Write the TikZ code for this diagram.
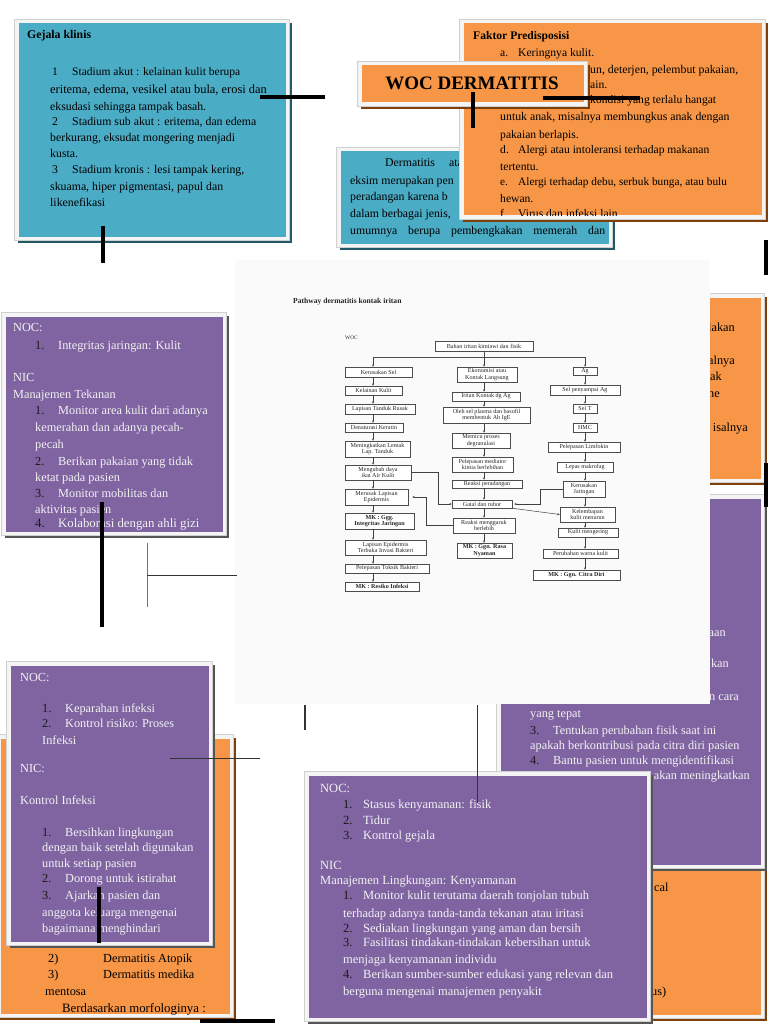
\documentclass[tikz,border=0pt]{standalone}
\usepackage{fontspec}
\setmainfont{Liberation Serif}
\usetikzlibrary{arrows.meta}
\definecolor{blueF}{HTML}{4BACC6}
\definecolor{blueS}{HTML}{215968}
\definecolor{orangeF}{HTML}{F79646}
\definecolor{orangeS}{HTML}{7F3F08}
\definecolor{purpleF}{HTML}{8064A2}
\definecolor{purpleS}{HTML}{555555}
\definecolor{edgeC}{HTML}{D0D0D0}
\definecolor{borderC}{HTML}{F4F4F4}
\definecolor{ptext}{HTML}{F2F2F2}
\definecolor{numc}{HTML}{1A1A1A}
\definecolor{imgbg}{HTML}{FAFAFA}
\newcounter{tlc}
\newcommand\tline[4][]{\stepcounter{tlc}\node[txt,#1] (t\arabic{tlc}) at (#2,#3) {#4};}
\newcommand\panel[6]{%
  \fill[#6] (#1+3,#2+3) rectangle (#3+3,#4+3);
  \fill[edgeC] (#1-0.6,#2-0.6) rectangle (#3+0.6,#4+0.6);
  \fill[borderC] (#1,#2) rectangle (#3,#4);
  \fill[#5] (#1+3.5,#2+3.5) rectangle (#3-3.5,#4-3.5);}
\newcommand\nm[1]{\makebox[23pt][l]{\textcolor{numc}{#1}}}
\newcommand\nmb[1]{\makebox[20pt][l]{\textcolor{numc}{#1}}}
\tikzset{
  txt/.style={anchor=base west, inner sep=0pt, font=\fontsize{12.3}{14}\selectfont, text=black},
  fs/.style={font=\fontsize{#1}{14}\selectfont},
  ptxt/.style={text=ptext},
  fbox/.style={draw=gray!60!black, line width=0.5pt, fill=white, inner sep=0.4pt, align=center,
    font=\fontsize{6.1}{6.5}\selectfont, text=black!85},
  fboxb/.style={fbox, font=\bfseries\fontsize{6.1}{6.5}\selectfont},
  farr/.style={-{Stealth[length=2.4pt,width=2.2pt]}, line width=0.5pt, draw=black!75},
  flink/.style={line width=0.5pt, draw=black!70},
  heavyline/.style={line width=3.2pt, black},
  thinline/.style={line width=0.9pt, black!80}
}
\begin{document}
\begin{tikzpicture}[x=1pt,y=-1pt]
\useasboundingbox (0,0) rectangle (768,1024);
\fill[white] (0,0) rectangle (768,1024);

% ---------- Dermatitis (blue, partly behind) ----------
\panel{337}{148}{612}{247}{blueF}{blueS}
\tline[fs=11.8]{385}{167}{Dermatitis\hspace{14pt}ata}
\tline[fs=11.8]{350}{185}{eksim merupakan pen}
\tline[fs=11.8]{350}{201}{peradangan karena b}
\tline[fs=11.8]{350}{218}{dalam berbagai jenis,}
\tline[fs=11.8]{350}{235}{\makebox[255pt][s]{umumnya berupa pembengkakan memerah dan}}

% ---------- Faktor Predisposisi (orange) ----------
\panel{460}{20}{765}{219}{orangeF}{orangeS}
\begin{scope}
\clip (463.5,23.5) rectangle (761.5,215.5);
\tline[fs=11.6]{473}{40}{\textbf{Faktor Predisposisi}}
\tline[fs=11.6]{500}{57}{\makebox[18pt][l]{a.}Keringnya kulit.}
\tline[fs=11.8]{590}{74}{un, deterjen, pelembut pakaian,}
\tline[fs=11.6]{590}{89}{ain.}
\tline[fs=11.6]{590}{104}{kondisi yang terlalu hangat}
\tline[fs=11.8]{500}{121}{untuk anak, misalnya membungkus anak dengan}
\tline[fs=11.6]{500}{139}{pakaian berlapis.}
\tline[fs=11.6]{500}{154}{\makebox[18pt][l]{d.}Alergi atau intoleransi terhadap makanan}
\tline[fs=11.6]{500}{171}{tertentu.}
\tline[fs=11.3]{500}{186}{\makebox[18pt][l]{e.}Alergi terhadap debu, serbuk bunga, atau bulu}
\tline[fs=11.6]{500}{203}{hewan.}
\tline[fs=11.6]{500}{218}{\makebox[18pt][l]{f.}Virus dan infeksi lain}
\end{scope}

% ---------- WOC DERMATITIS ----------
\panel{358}{62}{587}{106}{orangeF}{orangeS}
\node[font=\bfseries\fontsize{19}{19}\selectfont, inner sep=0pt] (woc) at (472,83) {WOC DERMATITIS};

% ---------- Gejala klinis ----------
\panel{15}{20}{289}{240}{blueF}{blueS}
\tline[fs=11.8]{27}{39}{\textbf{Gejala klinis}}
\tline[fs=11.5]{52}{76}{\makebox[20pt][l]{1}Stadium akut : kelainan kulit berupa}
\tline[fs=12.4]{50}{94}{eritema, edema, vesikel atau bula, erosi dan}
\tline[fs=11.8]{50}{111}{eksudasi sehingga tampak basah.}
\tline[fs=11.8]{52}{126}{\makebox[20pt][l]{2}Stadium sub akut : eritema, dan edema}
\tline[fs=11.8]{50}{142}{berkurang, eksudat mongering menjadi}
\tline[fs=11.8]{50}{158}{kusta.}
\tline[fs=11.8]{52}{174}{\makebox[20pt][l]{3}Stadium kronis : lesi tampak kering,}
\tline[fs=11.8]{50}{191}{skuama, hiper pigmentasi, papul dan}
\tline[fs=11.8]{50}{207}{likenefikasi}

% ---------- top-right orange (behind image) ----------
\panel{600}{294}{764}{482}{orangeF}{orangeS}
\tline{708}{331}{lakan}
\tline[anchor=base east]{735}{364}{alnya}
\tline[anchor=base east]{722}{380}{ak}
\tline[anchor=base east]{720}{397}{ne}
\tline[anchor=base east]{748}{431}{isalnya}

% ---------- bottom-right orange ----------
\panel{648}{850}{764}{1018}{orangeF}{orangeS}
\tline{654}{891}{cal}
\tline{651}{995}{us)}

% ---------- right purple (behind image) ----------
\panel{497}{495}{764}{868}{purpleF}{purpleS}
\tline[ptxt,anchor=base east]{726}{636}{aan}
\tline[ptxt,anchor=base east]{729}{667}{kan}
\tline[ptxt,anchor=base east]{739}{700}{n cara}
\tline[ptxt]{530}{717}{yang tepat}
\tline[ptxt]{530}{734}{\nm{3.}Tentukan perubahan fisik saat ini}
\tline[ptxt]{530}{749}{apakah berkontribusi pada citra diri pasien}
\tline[ptxt]{530}{764}{\nm{4.}Bantu pasien untuk mengidentifikasi}
\tline[ptxt,anchor=base east]{750}{779}{akan meningkatkan}

% ---------- pathway image ----------
\fill[imgbg] (235,260) rectangle (710,704);
\node[font=\bfseries\fontsize{7.6}{8}\selectfont, anchor=base west, inner sep=0pt, text=black!85] (ptitle) at (293,303) {Pathway dermatitis kontak iritan};
\node[font=\fontsize{5.4}{5.4}\selectfont, anchor=base west, inner sep=0pt, text=black!80] (pwoc) at (345,339) {WOC};

\node[fbox, minimum width=98pt, minimum height=10pt] (t0) at (484,346) {Bahan iritan kimiawi dan fisik};
% left column
\node[fbox, minimum width=67pt, minimum height=10pt] (k1) at (378.5,372) {Kerusakan Sel};
\node[fbox, minimum width=57pt, minimum height=9pt] (k2) at (373.5,390.5) {Kelainan Kulit};
\node[fbox, minimum width=70pt, minimum height=10pt] (k3) at (380,409) {Lapisan Tanduk Rusak};
\node[fbox, minimum width=58pt, minimum height=9pt] (k4) at (374,427.5) {Denaturasi Keratin};
\node[fbox, minimum width=65pt, minimum height=16pt] (k5) at (377.5,449) {Meningkatkan Lemak\\Lap. Tanduk};
\node[fbox, minimum width=66pt, minimum height=15pt] (k6) at (378,472.5) {Mengubah daya\\ikat Air Kulit};
\node[fbox, minimum width=63pt, minimum height=16pt] (k7) at (376.5,497) {Merusak Lapisan\\Epidermis};
\node[fboxb, minimum width=69pt, minimum height=16pt] (k8) at (379.5,521) {MK : Ggg.\\Integritas Jaringan};
\node[fbox, minimum width=81pt, minimum height=15pt] (k9) at (385.5,547.5) {Lapisan Epidermis\\Terbuka Invasi Bakteri};
\node[fbox, minimum width=84pt, minimum height=9pt] (k10) at (387,568.5) {Pelepasan Toksik Bakteri};
\node[fboxb, minimum width=74pt, minimum height=9pt] (k11) at (382,586.5) {MK : Resiko Infeksi};
% middle column
\node[fbox, minimum width=60pt, minimum height=15pt] (m1) at (487,374.5) {Ekonomisi atau\\Kontak Langsung};
\node[fbox, minimum width=68pt, minimum height=9pt] (m2) at (486,396.5) {Iritan Kontak dg Ag};
\node[fbox, minimum width=87pt, minimum height=16pt] (m3) at (486.5,415) {Oleh sel plasma dan basofil\\membentuk Ab IgE};
\node[fbox, minimum width=58pt, minimum height=15pt] (m4) at (481,440.5) {Memicu proses\\degranulasi};
\node[fbox, minimum width=61pt, minimum height=15pt] (m5) at (482.5,464.5) {Pelepasan mediator\\kimia berlebihan};
\node[fbox, minimum width=70pt, minimum height=8pt] (m6) at (487,484) {Reaksi peradangan};
\node[fbox, minimum width=60pt, minimum height=8pt] (m7) at (482,504) {Gatal dan rubor};
\node[fbox, minimum width=62pt, minimum height=15pt] (m8) at (484,525.5) {Reaksi menggaruk\\berlebih};
\node[fboxb, minimum width=55pt, minimum height=15pt] (m9) at (484.5,550.5) {MK : Ggn. Rasa\\Nyaman};
% right column
\node[fbox, minimum width=24pt, minimum height=8pt] (r1) at (585,371) {Ag};
\node[fbox, minimum width=70pt, minimum height=10pt] (r2) at (585,390) {Sel penyampai Ag};
\node[fbox, minimum width=24pt, minimum height=9pt] (r3) at (585,408.5) {Sel T};
\node[fbox, minimum width=24pt, minimum height=9pt] (r4) at (585,427.5) {HMC};
\node[fbox, minimum width=72pt, minimum height=10pt] (r5) at (584,447) {Pelepasan Limfokin};
\node[fbox, minimum width=56pt, minimum height=10pt] (r6) at (585,467) {Lepas makrofag};
\node[fbox, minimum width=42pt, minimum height=16pt] (r7) at (584,489) {Kerusakan\\Jaringan};
\node[fbox, minimum width=55pt, minimum height=15pt] (r8) at (587.5,514.5) {Kelembapan\\kulit menurun};
\node[fbox, minimum width=60pt, minimum height=9pt] (r9) at (588,532.5) {Kulit mengering};
\node[fbox, minimum width=75pt, minimum height=9pt] (r10) at (580.5,553.5) {Perubahan warna kulit};
\node[fboxb, minimum width=87pt, minimum height=10pt] (r11) at (576.5,575) {MK : Ggn. Citra Diri};

\coordinate (jL) at (373,357);
\coordinate (jR) at (585,357);
\coordinate (am) at (484,0);
\draw[flink] (t0.south) -- (t0.south |- jL);
\draw[flink] (jL) -- (jR);
\draw[farr] (jL) -- (k1.north -| jL);
\draw[farr] (t0.south |- jL) -- (m1.north -| am);
\draw[farr] (jR) -- (r1.north);
\foreach \a/\b in {k1/k2,k2/k3,k3/k4,k4/k5,k5/k6,k6/k7,k7/k8,k8/k9,k9/k10,k10/k11}
  \draw[farr] (\a.south -| jL) -- (\b.north -| jL);
\foreach \a/\b in {m1/m2,m2/m3,m3/m4,m4/m5,m5/m6,m6/m7,m7/m8,m8/m9}
  \draw[farr] (\a.south -| am) -- (\b.north -| am);
\foreach \a/\b in {r1/r2,r2/r3,r3/r4,r4/r5,r5/r6,r6/r7,r7/r8,r8/r9,r9/r10,r10/r11}
  \draw[farr] (\a.south -| jR) -- (\b.north -| jR);
\draw[flink, farr] (k6.east) -- ++(27,0) |- (m7.west);
\draw[flink, farr, shorten >=4pt] (m8.west) -- ++(-27,0) |- (k7.east);
\draw[flink, farr, shorten >=2pt] (r7.west) -- ++(-23,0) |- (m7.east);
\draw[flink, farr] (m7.south east) -- (r8.west);

% ---------- left NOC purple ----------
\panel{2}{313}{226}{535}{purpleF}{purpleS}
\tline[ptxt]{13}{331}{NOC:}
\tline[ptxt]{35}{349}{\nm{1.}Integritas jaringan: Kulit}
\tline[ptxt]{13}{381}{NIC}
\tline[ptxt]{13}{398}{Manajemen Tekanan}
\tline[ptxt]{35}{414}{\nm{1.}Monitor area kulit dari adanya}
\tline[ptxt]{35}{431}{kemerahan dan adanya pecah-}
\tline[ptxt]{35}{448}{pecah}
\tline[ptxt]{35}{465}{\nm{2.}Berikan pakaian yang tidak}
\tline[ptxt]{35}{481}{ketat pada pasien}
\tline[ptxt]{35}{497}{\nm{3.}Monitor mobilitas dan}
\tline[ptxt]{35}{513}{aktivitas pasien}
\tline[ptxt,fs=12.8]{35}{527}{\nm{4.}Kolaborasi dengan ahli gizi}

% ---------- bottom-left orange ----------
\panel{-3}{735}{233}{1017}{orangeF}{orangeS}
\tline{48}{962}{\makebox[55pt][l]{2)}Dermatitis Atopik}
\tline{48}{978}{\makebox[55pt][l]{3)}Dermatitis medika}
\tline{45}{995}{mentosa}
\tline[fs=12.8]{62}{1012}{Berdasarkan morfologinya :}

% ---------- bottom-left purple ----------
\panel{7}{662}{212}{945}{purpleF}{purpleS}
\tline[ptxt]{20}{681}{NOC:}
\tline[ptxt]{42}{712}{\nm{1.}Keparahan infeksi}
\tline[ptxt]{42}{727}{\nm{2.}Kontrol risiko: Proses}
\tline[ptxt]{42}{744}{Infeksi}
\tline[ptxt]{20}{772}{NIC:}
\tline[ptxt]{20}{804}{Kontrol Infeksi}
\tline[ptxt]{42}{836}{\nm{1.}Bersihkan lingkungan}
\tline[ptxt]{42}{851}{dengan baik setelah digunakan}
\tline[ptxt]{42}{867}{untuk setiap pasien}
\tline[ptxt]{42}{882}{\nm{2.}Dorong untuk istirahat}
\tline[ptxt]{42}{899}{\nm{3.}Ajarkan pasien dan}
\tline[ptxt]{42}{916}{anggota keluarga mengenai}
\tline[ptxt]{42}{932}{bagaimana menghindari}

% ---------- bottom-right purple ----------
\panel{305}{772}{650}{1021}{purpleF}{purpleS}
\tline[ptxt,fs=12.5]{320}{792}{NOC:}
\tline[ptxt,fs=12.5]{343}{808}{\nmb{1.}Stasus kenyamanan: fisik}
\tline[ptxt,fs=12.5]{343}{824}{\nmb{2.}Tidur}
\tline[ptxt,fs=12.5]{343}{839}{\nmb{3.}Kontrol gejala}
\tline[ptxt,fs=12.5]{320}{869}{NIC}
\tline[ptxt,fs=12.5]{320}{884}{Manajemen Lingkungan: Kenyamanan}
\tline[ptxt,fs=12.5]{343}{899}{\nmb{1.}Monitor kulit terutama daerah tonjolan tubuh}
\tline[ptxt,fs=12.5]{343}{917}{terhadap adanya tanda-tanda tekanan atau iritasi}
\tline[ptxt,fs=12.5]{343}{932}{\nmb{2.}Sediakan lingkungan yang aman dan bersih}
\tline[ptxt,fs=12.5]{343}{946}{\nmb{3.}Fasilitasi tindakan-tindakan kebersihan untuk}
\tline[ptxt,fs=12.5]{343}{963}{menjaga kenyamanan individu}
\tline[ptxt,fs=12.5]{343}{978}{\nmb{4.}Berikan sumber-sumber edukasi yang relevan dan}
\tline[ptxt,fs=12.5]{343}{995}{berguna mengenai manajemen penyakit}

% ---------- loose lines ----------
\coordinate (l1a) at (260,97);  \coordinate (l1b) at (325,97);
\coordinate (l2a) at (103,226); \coordinate (l2b) at (103,263);
\coordinate (l3a) at (473,92);  \coordinate (l3b) at (473,128);
\coordinate (l4a) at (543,98);  \coordinate (l4b) at (640,98);
\coordinate (l5a) at (766,240); \coordinate (l5b) at (766,275);
\coordinate (l6a) at (102,502); \coordinate (l6b) at (102,627);
\coordinate (l7a) at (147,543); \coordinate (l7b) at (147,607);
\coordinate (l7c) at (147,575); \coordinate (l7d) at (237,575);
\coordinate (l8a) at (99,887);  \coordinate (l8b) at (99,943);
\coordinate (l9a) at (170,758); \coordinate (l9b) at (260,758);
\coordinate (l10a) at (305,705); \coordinate (l10b) at (305,730);
\coordinate (l11a) at (477,705); \coordinate (l11b) at (477,803);
\coordinate (l12a) at (200,1021); \coordinate (l12b) at (275,1021);
\coordinate (l13a) at (766,463); \coordinate (l13b) at (766,507);
\draw[heavyline] (l1a) -- (l1b);
\draw[heavyline] (l2a) -- (l2b);
\draw[heavyline, line width=3.6pt] (l3a) -- (l3b);
\draw[heavyline, line width=3.6pt] (l4a) -- (l4b);
\draw[heavyline] (l5a) -- (l5b);
\draw[heavyline, line width=4pt] (l6a) -- (l6b);
\draw[thinline, black!55] (l7a) -- (l7b);
\draw[thinline] (l7c) -- (l7d);
\draw[heavyline] (l8a) -- (l8b);
\draw[thinline] (l9a) -- (l9b);
\draw[thinline, line width=1.2pt] (l10a) -- (l10b);
\draw[thinline] (l11a) -- (l11b);
\draw[heavyline] (l12a) -- (l12b);
\draw[heavyline] (l13a) -- (l13b);
\end{tikzpicture}
\end{document}
